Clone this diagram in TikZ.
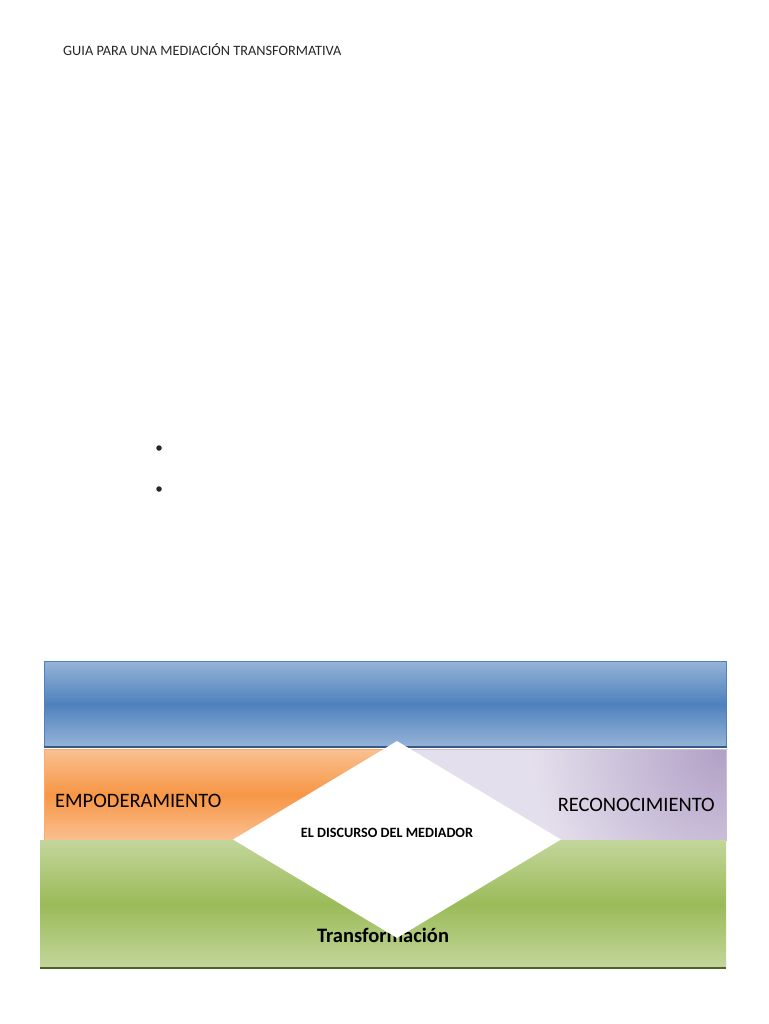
\documentclass[tikz,border=0pt]{standalone}
\usepackage{fontspec}
\setmainfont{Carlito}
\usepackage{xcolor}
\usetikzlibrary{shapes.geometric}
\usetikzlibrary{positioning}
\definecolor{bluedark}{RGB}{79,129,189}
\definecolor{bluelight}{RGB}{149,179,215}
\definecolor{orangedark}{RGB}{247,150,70}
\definecolor{orangelight}{RGB}{250,192,144}
\definecolor{lavlight}{RGB}{228,223,236}
\definecolor{lavdark}{RGB}{178,161,199}
\definecolor{greendark}{RGB}{155,187,89}
\definecolor{greenlight}{RGB}{195,214,155}
\definecolor{greenline}{RGB}{79,98,40}

\begin{document}
\begin{tikzpicture}[x=1pt, y=-1pt,
    band/.style={rectangle, inner sep=0pt, anchor=north west},
    biglabel/.style={font=\fontsize{20.5}{24}\selectfont, text=black, inner sep=0pt},
    bullet/.style={circle, fill=black!85, inner sep=0pt, minimum size=5.5pt}]

      \useasboundingbox (0,0) rectangle (768,1024);

      % encabezado y lista vacia
      \node[anchor=west, inner sep=0pt, font=\fontsize{14.3}{17}\selectfont, text=black!85] (titulo) at (63,50) {GUIA PARA UNA MEDIACIÓN TRANSFORMATIVA};
      \node[bullet] (punto1) at (159,448) {};
      \node[bullet] (punto2) at (159,489) {};

      % franja azul
      \node[band, minimum width=682pt, minimum height=85pt, top color=bluelight, bottom color=bluelight, middle color=bluedark, draw=bluedark, line width=0.8pt] (franja) at (44,661) {};
      \draw[bluedark!70!black, line width=1.6pt] (franja.south west) -- (franja.south east);

      % empoderamiento / reconocimiento
      \node[band, minimum width=353pt, minimum height=91pt, top color=orangelight, bottom color=orangelight, middle color=orangedark, draw=orangedark!80, line width=0.8pt] (empoderamiento) at (44,749) {};
      \node[band, minimum width=329pt, minimum height=91pt, fill=lavlight, draw=lavdark!70, line width=0.8pt] (reconocimiento) at (397,749) {};
      \begin{scope}
        \clip (reconocimiento.south west) rectangle (reconocimiento.north east);
        \shade[inner color=lavdark, outer color=lavlight] (722,752) circle (190);
      \end{scope}
      \draw[lavdark!70, line width=0.8pt] (reconocimiento.south west) rectangle (reconocimiento.north east);

      % transformacion
      \node[band, minimum width=686pt, minimum height=128pt, top color=greenlight, bottom color=greenlight, middle color=greendark] (transformacion) at (40,840) {};
      \draw[greenline, line width=2pt] (transformacion.south west) -- (transformacion.south east);

      \node[biglabel, anchor=west] (empotxt) at (55,801) {EMPODERAMIENTO};
      \node[biglabel, anchor=east] (recotxt) at (715,805) {RECONOCIMIENTO};
      \node[biglabel, font=\bfseries\fontsize{20.5}{24}\selectfont] (transtxt) at (383,935) {Transformación};

      % rombo central
      \node[diamond, fill=white, minimum width=328pt, minimum height=197pt, inner sep=0pt] (discurso) at (397,839.5) {};
      \node[inner sep=0pt, font=\bfseries\fontsize{14.2}{17}\selectfont] (discursotxt) at (387,833) {EL DISCURSO DEL MEDIADOR};

\end{tikzpicture}
\end{document}
